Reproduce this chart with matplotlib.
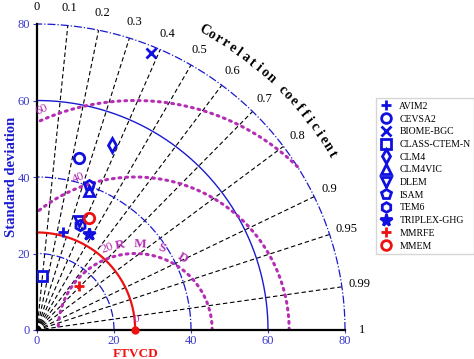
import numpy as np
import matplotlib
matplotlib.use('Agg')
import matplotlib.pyplot as plt
from matplotlib.lines import Line2D

plt.rcParams['font.family'] = ['Liberation Serif', 'DejaVu Serif']

# Taylor diagram data (std dev, correlation) vs FTVCD reference
models = ['AVIM2', 'CEVSA2', 'BIOME-BGC', 'CLASS-CTEM-N', 'CLM4', 'CLM4VIC',
          'DLEM', 'ISAM', 'TEM6', 'TRIPLEX-GHG', 'MMRFE', 'MMEM']
stds = [26.5, 46.3, 78.3, 14.2, 52.2, 38.8, 30.4, 40.1, 29.6, 28.6, 15.8, 32.2]
corrs = [0.25, 0.233, 0.379, 0.10, 0.375, 0.345, 0.355, 0.334, 0.38, 0.475, 0.685, 0.422]
markers = ['+', 'o', 'x', 's', 'd', '^', 'v', 'p', 'h', '*', '+', 'o']
colors = ['#1010e0'] * 10 + ['#ee1111', '#ee1111']

ref_std = 25.5
corr_ticks = [0.1, 0.2, 0.3, 0.4, 0.5, 0.6, 0.7, 0.8, 0.9, 0.95, 0.99]
corr_labels = ['0', '0.1', '0.2', '0.3', '0.4', '0.5', '0.6', '0.7', '0.8', '0.9', '0.95', '0.99', '1']
std_ticks = [0, 20, 40, 60, 80]
rmsd_levels = [20, 40, 60]
rmax = 80

blue = '#1a1ad0'
tickblue = '#3a3acc'
magenta = '#b52db5'

fig = plt.figure(figsize=(4.74, 3.59), dpi=100)
ax = fig.add_axes([37 / 474, 29 / 359, 308 / 474, 306 / 359])
ax.set_xlim(0, rmax)
ax.set_ylim(0, rmax)
ax.spines['top'].set_visible(False)
ax.spines['right'].set_visible(False)
for s in ['left', 'bottom']:
    ax.spines[s].set_linewidth(1.6)
ax.set_xticks(std_ticks)
ax.set_yticks(std_ticks)
ax.tick_params(colors=tickblue, labelsize=9, length=3, width=0.8, pad=2)
ax.tick_params(axis='x', length=2.5, pad=1)

# correlation lines
for c in corr_ticks:
    a = np.arccos(c)
    ax.plot([0, rmax * np.cos(a)], [0, rmax * np.sin(a)], 'k--', lw=0.8, dashes=(4, 2.5))

# correlation labels
for c, lab in zip([0.0] + corr_ticks + [1.0], corr_labels):
    a = np.arccos(c)
    ax.text(84.5 * np.cos(a), 84.5 * np.sin(a), lab, fontsize=9, ha='center', va='center',
            clip_on=False)

# curved title
title = 'Correlation coefficient'
angs = np.linspace(61, 31, len(title))
for ch, ang in zip(title, angs):
    a = np.radians(ang)
    ax.text(89.5 * np.cos(a), 89.5 * np.sin(a), ch, fontsize=10, fontweight='bold',
            rotation=ang - 90, ha='center', va='center', clip_on=False)

# std arcs
t = np.linspace(0, np.pi / 2, 300)
for r in [20, 40, 80]:
    ax.plot(r * np.cos(t), r * np.sin(t), color=blue, lw=0.9, ls='-.', clip_on=False)
ax.plot(60 * np.cos(t), 60 * np.sin(t), color=blue, lw=1.0)
ax.plot(ref_std * np.cos(t), ref_std * np.sin(t), color='#ee1111', lw=1.6, clip_on=False)
ax.plot([ref_std], [0], 'o', color='#ee1111', ms=5, clip_on=False, zorder=5)

# RMSD circles
tt = np.linspace(0, np.pi, 600)
for r in rmsd_levels:
    x = ref_std + r * np.cos(tt)
    y = r * np.sin(tt)
    bad = (np.hypot(x, y) > rmax) | (x < 0)
    x[bad] = np.nan
    y[bad] = np.nan
    ax.plot(x, y, color=magenta, lw=2.2, ls=(0, (0.6, 1.6)), dash_capstyle='round')

for r, ang, rot in zip(rmsd_levels, [108.6, 110.4, 112.7], [20, 22, 25]):
    a = np.radians(ang)
    ax.text(ref_std + (r + 2.5) * np.cos(a), (r + 2.5) * np.sin(a), str(r), color=magenta,
            fontsize=9, rotation=rot, ha='center', va='center')
ax.text(ref_std + 0.3, 2.7, '0', color=magenta, fontsize=8, ha='center', va='center')
for ch, ang in zip('RMSD', [100, 87, 72, 57]):
    a = np.radians(ang)
    ax.text(ref_std + 22.5 * np.cos(a), 22.5 * np.sin(a), ch, color=magenta, fontsize=9.5,
            fontweight='bold', rotation=ang - 90, ha='center', va='center')

# model points
handles = []
for name, s, c, m, col in zip(models, stds, corrs, markers, colors):
    a = np.arccos(c)
    ms = 9 if m == '*' else 7.5
    ax.plot(s * np.cos(a), s * np.sin(a), m, color=col, mfc='none' if m != '*' else col,
            mew=2.0, ms=ms, zorder=6)
    handles.append(Line2D([], [], ls='none', marker=m, color=col,
                          mfc='none' if m != '*' else col, mew=2.0, ms=ms - 0.5, label=name))

ax.set_ylabel('Standard deviation', color=blue, fontsize=10.5, fontweight='bold', labelpad=0)
ax.text(ref_std, -6.2, 'FTVCD', color='#ee1111', fontsize=9.5, fontweight='bold',
        ha='center', va='center', clip_on=False)

fig.legend(handles=handles, loc='upper left', bbox_to_anchor=(376 / 474, 1 - 98 / 359),
           fontsize=7, frameon=True, fancybox=False, edgecolor='#cccccc', handlelength=1.2,
           handletextpad=0.8, labelspacing=0.38, borderpad=0.4, borderaxespad=0)

fig.savefig('out.png', dpi=100)
